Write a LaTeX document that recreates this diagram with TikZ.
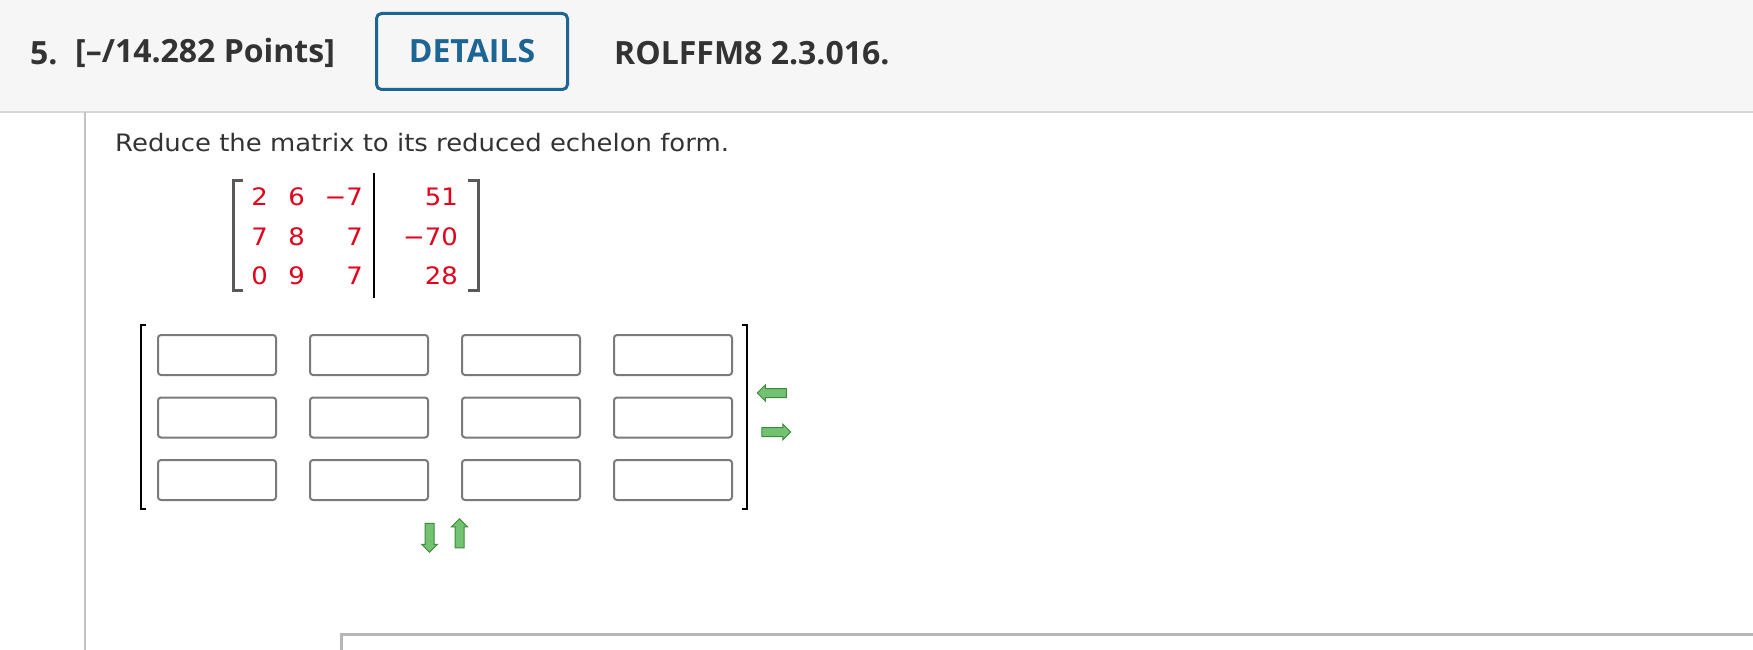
\documentclass[tikz,border=0pt]{standalone}
\usepackage{fontspec}
\setmainfont{DejaVu Sans}[FakeStretch = 1.08]
\newfontfamily\headfont{Open Sans}
\usetikzlibrary{shapes.arrows}
\definecolor{headbg}{HTML}{F6F6F6}
\definecolor{rulegray}{HTML}{D6D6D6}
\definecolor{btnblue}{HTML}{1C6595}
\definecolor{txtgray}{HTML}{333333}
\definecolor{entryred}{HTML}{E2001A}
\definecolor{boxgray}{HTML}{7A7A7A}
\definecolor{arrowfill}{HTML}{72C272}
\definecolor{arrowdraw}{HTML}{3D8B3D}
\begin{document}
\begin{tikzpicture}[x = 1pt, y = -1pt,
    headtext/.style = {text = txtgray, font = \headfont\bfseries\fontsize{32}{36}\selectfont, inner sep = 0pt},
    entry/.style = {text = entryred, font = \fontsize{24}{28}\selectfont, inner sep = 0pt, anchor = east},
    ansbox/.style = {draw = boxgray, line width = 2pt, rounded corners = 3pt, minimum width = 118pt, minimum height = 40pt, inner sep = 0pt, anchor = north west},
    garrow/.style = {single arrow, fill = arrowfill, draw = arrowdraw, line width = 1pt, minimum height = 29pt, minimum width = 16pt, single arrow head extend = 3.5pt, inner sep = 4pt}]
    \useasboundingbox[fill = white] (0, 0) rectangle (1753, 650);
    % header bar
    \fill[headbg] (0, 0) rectangle (1753, 112);
    \draw[rulegray, line width = 2pt] (0, 112) -- (1753, 112);
    \draw[rulegray!90!black, line width = 1.5pt] (85, 112) -- (85, 650);
    \node[headtext, anchor = west] (num) at (30, 53) {5.};
    \node[headtext, anchor = west] (points) at (75, 53) {[–/14.282 Points]};
    \node[draw = btnblue, line width = 3pt, rounded corners = 5pt, minimum width = 191pt, minimum height = 76pt, inner sep = 0pt,
          text = btnblue, font = \headfont\bfseries\fontsize{32}{36}\selectfont] (details) at (472, 51.5) {DETAILS};
    \node[headtext, anchor = west] (code) at (614, 53) {ROLFFM8 2.3.016.};

    \node[text = txtgray, font = \fontsize{24}{28}\selectfont, anchor = west, inner sep = 0pt] (task) at (115, 143) {Reduce the matrix to its reduced echelon form.};

    % given matrix
    \draw[black!65, line width = 3pt] (243, 180) -- (233, 180) -- (233, 290) -- (243, 290);
    \draw[black!65, line width = 3pt] (468, 180) -- (478, 180) -- (478, 290) -- (468, 290);
    \draw[black, line width = 2pt] (374, 173) -- (374, 298);
    \foreach \a/\b/\c/\d [count = \r] in {2/6/−7/51, 7/8/7/−70, 0/9/7/28} {
        \node[entry] (m\r1) at (268, {197 + 39.5*(\r-1)}) {\a};
        \node[entry] (m\r2) at (305, {197 + 39.5*(\r-1)}) {\b};
        \node[entry] (m\r3) at (363, {197 + 39.5*(\r-1)}) {\c};
        \node[entry] (m\r4) at (458, {197 + 39.5*(\r-1)}) {\d};
    }

    % answer matrix
    \foreach \r in {1, 2, 3}
        \foreach \c in {1, ..., 4}
            \node[ansbox] (b\r\c) at ({157 + 152*(\c-1)}, {334 + 62.5*(\r-1)}) {};
    \draw[black, line width = 2.5pt] (146, 325) -- (141, 325) -- (141, 509) -- (146, 509);
    \draw[black, line width = 2.5pt] (742, 325) -- (747, 325) -- (747, 509) -- (742, 509);

    % row and column arrows
    \node[garrow, shape border rotate = 180] (rowup) at (774, 393) {};
    \node[garrow] (rowdown) at (774, 432) {};
    \node[garrow, shape border rotate = 270] (coldown) at (429.5, 535.5) {};
    \node[garrow, shape border rotate = 90] (colup) at (459.5, 535.5) {};

    % next panel edge
    \draw[rulegray!85!black, line width = 3pt] (341, 650) -- (341, 634) -- (1753, 634);
\end{tikzpicture}
\end{document}
